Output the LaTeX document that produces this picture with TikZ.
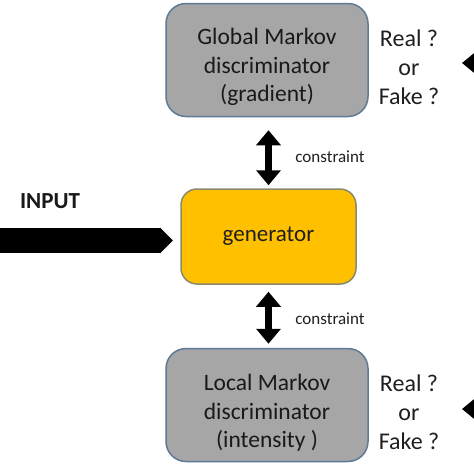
\documentclass[tikz,border=0pt]{standalone}
\usepackage{fontspec}
\setmainfont{Carlito}
\usetikzlibrary{arrows.meta}
\definecolor{discgray}{HTML}{A6A6A6}
\definecolor{discline}{HTML}{5E7A96}
\definecolor{genyellow}{HTML}{FFC000}
\definecolor{genline}{HTML}{8A8A6A}

\begin{document}
\begin{tikzpicture}[x=1pt, y=-1pt,
    disc/.style={draw=discline, fill=discgray, line width=1.5pt, rounded corners=20pt,
      minimum width=202pt, minimum height=113pt},
    disctext/.style={align=center, text=black!90, font=\fontsize{23.5}{28.5}\selectfont},
    gen/.style={draw=genline, fill=genyellow, line width=1.5pt, rounded corners=16pt,
      minimum width=175pt, minimum height=95pt, text=black!88, font=\fontsize{23}{28}\selectfont},
    answer/.style={align=center, text=black!88, font=\fontsize{24}{29}\selectfont},
    dbl/.style={line width=7pt, {Triangle[length=15pt, width=24pt]}-{Triangle[length=15pt, width=24pt]}},
    big/.style={line width=22pt, -{Triangle[length=14pt, width=22pt]}}]
  \useasboundingbox (0,0) rectangle (474,474);

  \node[disc] (glob) at (267,60) {};
  \node[disctext] (globtxt) at (267,67) {Global Markov\\discriminator\\(gradient)};
  \node[gen] (gen) at (268.5,236.5) {\raisebox{-2pt}{generator}};
  \node[disc] (loc) at (267,405) {};
  \node[disctext] (loctxt) at (267,413) {Local Markov\\discriminator\\(intensity )};

  % constraints between the boxes
  \draw[dbl, shorten <=13pt, shorten >=3pt] (gen.north |- glob.south) -- (gen.north);
  \draw[dbl, shorten <=7pt, shorten >=4pt] (gen.south) -- (gen.south |- loc.north);
  \node[font=\fontsize{17}{20}\selectfont, text=black!88] (c1) at (330,157) {constraint};
  \node[font=\fontsize{17}{20}\selectfont, text=black!88] (c2) at (330,319) {constraint};

  % input
  \node[font=\bfseries\fontsize{23}{28}\selectfont, text=black!90] (in) at (50,201) {INPUT};
  \coordinate (intip) at (173,240.5);
  \draw[line width=25pt, -{Triangle[length=13pt, width=25pt]}] (-10,240.5) -- (intip);

  % outputs
  \node[answer] (ans1) at (409,67) {Real ?\\or\\Fake ?};
  \node[answer] (ans2) at (409,412) {Real ?\\or\\Fake ?};
  \coordinate (tip1) at (462,63);
  \coordinate (tip2) at (462,409);
  \draw[big] (495,63) -- (tip1);
  \draw[big] (495,409) -- (tip2);
\end{tikzpicture}
\end{document}
